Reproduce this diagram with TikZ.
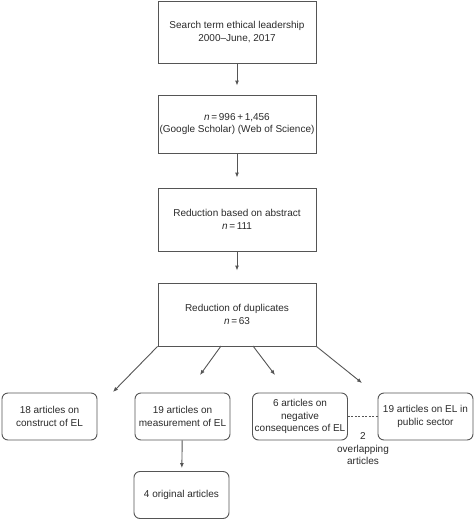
\documentclass[tikz,border=0pt]{standalone}
\usepackage{fontspec}
\setmainfont{Liberation Sans}
\usetikzlibrary{arrows.meta,positioning}
\definecolor{ln}{HTML}{555555}
\definecolor{tx}{HTML}{2A2A2A}
\tikzset{
  sqbox/.style={draw=ln, line width=0.9pt, minimum width=158pt, minimum height=62pt, align=center, text=tx, font=\fontsize{10}{12.5}\selectfont, inner sep=0pt},
  rdbox/.style={draw=ln, line width=0.9pt, rounded corners=6pt, minimum width=95pt, minimum height=47pt, align=center, text=tx, font=\fontsize{10}{12.5}\selectfont, inner sep=0pt},
  arr/.style={draw=ln, line width=0.9pt, -{Latex[length=5pt,width=4pt]}},
  lbl/.style={text=tx, font=\fontsize{10}{12.5}\selectfont, align=center, inner sep=0pt}
}
\begin{document}
\begin{tikzpicture}[x=1pt,y=-1pt]
\useasboundingbox (0,0) rectangle (474,520);
\node[sqbox] (b1) at (237,32) {Search term ethical leadership\\2000--June, 2017};
\node[sqbox, minimum height=58pt] (b2) at (237,124) {\textit{n}\,=\,996\,+\,1,456\\(Google Scholar) (Web of Science)};
\node[sqbox, minimum height=63pt] (b3) at (237,219.5) {Reduction based on abstract\\\textit{n}\,=\,111};
\node[sqbox, minimum height=63pt] (b4) at (237,314.5) {Reduction of duplicates\\\textit{n}\,=\,63};
\node[rdbox] (c1) at (49.5,416.5) {18 articles on\\construct of EL};
\node[rdbox] (c2) at (182.5,416.5) {19 articles on\\measurement of EL};
\node[rdbox] (c3) at (300,416.5) {6 articles on\\negative\\consequences of EL};
\node[rdbox] (c4) at (425.5,416.5) {19 articles on EL in\\public sector};
\node[rdbox] (c5) at (181.5,495) {4 original articles};
\node[lbl] (ov) at (363,449) {2\\overlapping\\articles};
\coordinate (s2) at (221,346);
\coordinate (s3) at (253,346);
\coordinate (t1) at (113,392);
\coordinate (t2) at (200,375);
\coordinate (t3) at (275,375);
\coordinate (t4) at (362,383);
\draw[arr, shorten >=9pt] (b1) -- (b2);
\draw[arr, shorten >=10pt] (b2) -- (b3);
\draw[arr, shorten >=12pt] (b3) -- (b4);
\draw[arr] (b4.south west) -- (t1);
\draw[arr] (s2) -- (t2);
\draw[arr] (s3) -- (t3);
\draw[arr] (b4.south east) -- (t4);
\draw[arr, shorten >=3pt] (c2) -- (c5);
\draw[draw=ln, line width=0.9pt, dash pattern=on 2pt off 1.5pt] (c3) -- (c4);
\end{tikzpicture}
\end{document}
